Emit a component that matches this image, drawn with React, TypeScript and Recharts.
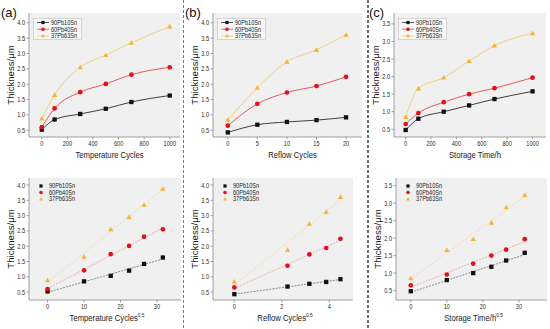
import React from "react";
import { ComposedChart, Line, XAxis, YAxis, CartesianGrid, Legend, Label } from "recharts";

const FONT = '"Liberation Sans", Arial, sans-serif';
// the source figure is squeezed horizontally, so glyphs are drawn narrower than tall
const SQUEEZE = 0.8;

const SERIES_NAMES = ["90Pb10Sn", "60Pb40Sn", "37Pb63Sn"];
const MARKERS = ["square", "circle", "triangle"];
const MARKER_COLORS = ["#111111", "#e3101c", "#f5b533"];
const LINE_COLORS = ["#2b2b2b", "#e44a4a", "#f7c970"];
const FIT_COLORS = ["#7a7a7a", "#eea3a3", "#f5d9a2"];

// (a) temperature cycling
const tempCycles = [0, 100, 300, 500, 700, 1000];
const tempCyclesRoot = [0, 10, 17.32, 22.36, 26.46, 31.62];
const temp90Pb10Sn = [0.52, 0.85, 1.03, 1.2, 1.42, 1.63];
const temp60Pb40Sn = [0.6, 1.21, 1.74, 2.01, 2.31, 2.55];
const temp37Pb63Sn = [0.88, 1.65, 2.55, 2.95, 3.35, 3.88];
const tempFitRoot = [0, 31.62];
const tempFit90Pb10Sn = [0.49, 1.58];
const tempFit60Pb40Sn = [0.61, 2.6];
const tempFit37Pb63Sn = [0.82, 3.86];

// (b) reflow
const reflowCycles = [0, 5, 10, 15, 20];
const reflowCyclesRoot = [0, 2.24, 3.16, 3.87, 4.47];
const reflow90Pb10Sn = [0.43, 0.68, 0.77, 0.83, 0.92];
const reflow60Pb40Sn = [0.65, 1.36, 1.73, 1.94, 2.24];
const reflow37Pb63Sn = [0.84, 1.88, 2.73, 3.12, 3.61];
const reflowFitRoot = [0, 4.47];
const reflowFit90Pb10Sn = [0.43, 0.91];
const reflowFit60Pb40Sn = [0.62, 2.19];
const reflowFit37Pb63Sn = [0.73, 3.51];

// (c) storage
const storageHours = [0, 100, 300, 500, 700, 1000];
const storageHoursRoot = [0, 10, 17.32, 22.36, 26.46, 31.62];
const storage90Pb10Sn = [0.48, 0.8, 1.0, 1.18, 1.36, 1.58];
const storage60Pb40Sn = [0.65, 0.96, 1.27, 1.5, 1.67, 1.97];
const storage37Pb63Sn = [0.85, 1.66, 1.97, 2.44, 2.88, 3.23];
const storageFitRoot = [0, 31.62];
const storageFit90Pb10Sn = [0.45, 1.53];
const storageFit60Pb40Sn = [0.59, 1.9];
const storageFit37Pb63Sn = [0.83, 3.19];

// ticks
const ticksCycles = [0, 200, 400, 600, 800, 1000];
const minorCycles = [100, 300, 500, 700, 900];
const ticksReflow = [0, 5, 10, 15, 20];
const minorReflow = [2.5, 7.5, 12.5, 17.5];
const ticksRoot = [0, 10, 20, 30];
const minorRoot = [5, 15, 25, 35];
const ticksReflowRoot = [0, 2, 4];
const minorReflowRoot = [1, 3];
const ticksThick40 = [0.5, 1, 1.5, 2, 2.5, 3, 3.5, 4];
const minorThick40 = [0.75, 1.25, 1.75, 2.25, 2.75, 3.25, 3.75];
const ticksThick35 = [0.5, 1, 1.5, 2, 2.5, 3, 3.5];
const minorThick35 = [0.75, 1.25, 1.75, 2.25, 2.75, 3.25];

const toRows = (xs: number[], ys: number[]) => xs.map((x, i) => ({ x, y: ys[i] }));

function Marker({ kind, cx, cy, fill, s }: any) {
  if (cx == null || cy == null) return null;
  if (kind === "square") return <rect x={cx - s / 2} y={cy - s / 2} width={s} height={s} fill={fill} />;
  if (kind === "circle") return <circle cx={cx} cy={cy} r={s / 2 + 0.2} fill={fill} />;
  return (
    <polygon
      points={`${cx},${cy - s * 0.62} ${cx - s * 0.62},${cy + s * 0.45} ${cx + s * 0.62},${cy + s * 0.45}`}
      fill={fill}
    />
  );
}

function LegendBox({ withLine }: { withLine: boolean }) {
  const rows = withLine ? [4.5, 11.2, 17.9] : [3, 9.5, 16];
  return (
    <svg width={50} height={22} style={{ display: "block" }}>
      {withLine && <rect x={0.5} y={0.5} width={48} height={21} fill="#f7f7f7" stroke="#c8c8c8" strokeWidth={0.7} />}
      {SERIES_NAMES.map((name, i) => (
        <g key={name}>
          {withLine && <line x1={4} x2={16} y1={rows[i]} y2={rows[i]} stroke={LINE_COLORS[i]} strokeWidth={0.8} />}
          <Marker kind={MARKERS[i]} cx={withLine ? 10 : 8} cy={rows[i]} fill={MARKER_COLORS[i]} s={3.2} />
          <text transform={`translate(${withLine ? 18 : 16} ${rows[i] + 2.4}) scale(${SQUEEZE} 1)`}
            fontSize={7} fontFamily={FONT} fill="#222">
            {name}
          </text>
        </g>
      ))}
    </svg>
  );
}

function AxisTick({ x, y, payload, textAnchor, vertical }: any) {
  const label = vertical ? Number(payload.value).toFixed(1) : String(payload.value);
  return (
    <text transform={`translate(${x} ${y}) scale(${SQUEEZE} 1)`} textAnchor={textAnchor}
      dy={vertical ? "0.36em" : "0.75em"} fontSize={7} fontFamily={FONT} fill="#2a2a2a">
      {label}
    </text>
  );
}

function XTitle({ viewBox, text, sup, shift }: any) {
  const { x, y, width } = viewBox;
  return (
    <text transform={`translate(${x + width / 2 + shift} ${y + 21}) scale(${SQUEEZE} 1)`} textAnchor="middle"
      fontSize={9.6} fontFamily={FONT} fill="#1a1a1a">
      {text}
      {sup ? (
        <tspan dy={-4.5} fontSize={6}>
          {sup}
        </tspan>
      ) : null}
    </text>
  );
}

function YTitle({ viewBox }: any) {
  const { x, y, width, height } = viewBox;
  const cx = x + width - 19;
  const cy = y + height / 2;
  return (
    <text x={cx} y={cy} transform={`rotate(-90 ${cx} ${cy})`} textAnchor="middle" dominantBaseline="central"
      fontSize={9.6} fontFamily={FONT} fill="#1a1a1a">
      Thickness/μm
    </text>
  );
}

type PanelProps = {
  left: number;
  top: number;
  width: number;
  height: number;
  margin: { top: number; right: number; bottom: number; left: number };
  yWidth: number;
  xHeight: number;
  xDomain: [number, number];
  yDomain: [number, number];
  xTicks: number[];
  xMinor: number[];
  yTicks: number[];
  yMinor: number[];
  xs: number[];
  series: number[][];
  fitXs?: number[];
  fits?: number[][];
  xTitle: string;
  xSup?: string;
  titleShift: number;
};

const tickLineStyle = { stroke: "#666", strokeWidth: 0.6 };
const boxLine = { stroke: "#8a8a8a", strokeWidth: 0.8 };

function Panel(p: PanelProps) {
  const smooth = !p.fits;
  return (
    <div style={{ position: "absolute", left: p.left, top: p.top }}>
      <ComposedChart width={p.width} height={p.height} margin={p.margin}>
        <CartesianGrid xAxisId="main" yAxisId="main" horizontal={false} vertical={false} fill="#f0f0f0" stroke="none" />
        <XAxis xAxisId="minor" type="number" dataKey="x" domain={p.xDomain} allowDataOverflow ticks={p.xMinor}
          interval={0} tick={false} tickSize={1.5} tickLine={tickLineStyle} axisLine={false} height={0} />
        <XAxis xAxisId="main" type="number" dataKey="x" domain={p.xDomain} allowDataOverflow ticks={p.xTicks}
          interval={0} tick={<AxisTick />} tickSize={2.5} tickMargin={1.5} tickLine={tickLineStyle} axisLine={boxLine}
          height={p.xHeight}>
          <Label content={(lp: any) => <XTitle viewBox={lp.viewBox} text={p.xTitle} sup={p.xSup} shift={p.titleShift} />} />
        </XAxis>
        <XAxis xAxisId="top" orientation="top" type="number" domain={p.xDomain} allowDataOverflow tick={false}
          tickLine={false} axisLine={boxLine} height={0} />
        <YAxis yAxisId="minor" type="number" domain={p.yDomain} allowDataOverflow ticks={p.yMinor} interval={0}
          tick={false} tickSize={1.5} tickLine={tickLineStyle} axisLine={false} width={0} />
        <YAxis yAxisId="main" type="number" domain={p.yDomain} allowDataOverflow ticks={p.yTicks} interval={0}
          tick={<AxisTick vertical />} tickSize={2.5} tickMargin={1.5} tickLine={tickLineStyle} axisLine={boxLine}
          width={p.yWidth}>
          <Label content={(lp: any) => <YTitle viewBox={lp.viewBox} />} />
        </YAxis>
        <YAxis yAxisId="right" orientation="right" type="number" domain={p.yDomain} allowDataOverflow tick={false}
          tickLine={false} axisLine={boxLine} width={0} />
        {p.fits &&
          p.fits.map((fy, i) => (
            <Line key={`fit-${i}`} xAxisId="main" yAxisId="main" data={toRows(p.fitXs || [], fy)} dataKey="y"
              type="linear" stroke={FIT_COLORS[i]} strokeWidth={0.9} strokeDasharray="2 1.2" dot={false}
              legendType="none" isAnimationActive={false} />
          ))}
        {p.series.map((ys, i) => (
          <Line key={SERIES_NAMES[i]} name={SERIES_NAMES[i]} xAxisId="main" yAxisId="main" data={toRows(p.xs, ys)}
            dataKey="y" type="monotone" stroke={smooth ? LINE_COLORS[i] : "none"} strokeWidth={0.9}
            dot={(dp: any) => (
              <Marker key={`m-${i}-${dp.index}`} kind={MARKERS[i]} cx={dp.cx} cy={dp.cy} fill={MARKER_COLORS[i]} s={4.3} />
            )}
            activeDot={false} isAnimationActive={false} />
        ))}
        <Legend layout="vertical" align="center" verticalAlign="middle"
          wrapperStyle={{ left: p.margin.left + p.yWidth + 4, top: p.margin.top + 5, width: 50, height: 22 }}
          content={() => <LegendBox withLine={smooth} />} />
      </ComposedChart>
    </div>
  );
}

export default function App() {
  return (
    <div style={{ position: "absolute", left: 0, top: 0, width: 550, height: 329, background: "#fff", overflow: "hidden" }}>
      <Panel left={0} top={0} width={184} height={165} margin={{ top: 13, right: 4, bottom: 0, left: 0 }}
        yWidth={29} xHeight={28} xDomain={[-100, 1080]} yDomain={[0.28, 4.32]}
        xTicks={ticksCycles} xMinor={minorCycles} yTicks={ticksThick40} yMinor={minorThick40}
        xs={tempCycles} series={[temp90Pb10Sn, temp60Pb40Sn, temp37Pb63Sn]}
        xTitle="Temperature Cycles" titleShift={5} />
      <Panel left={184} top={0} width={184} height={165} margin={{ top: 13, right: 6, bottom: 0, left: 0 }}
        yWidth={29} xHeight={28} xDomain={[-2.5, 22.7]} yDomain={[0.28, 4.32]}
        xTicks={ticksReflow} xMinor={minorReflow} yTicks={ticksThick40} yMinor={minorThick40}
        xs={reflowCycles} series={[reflow90Pb10Sn, reflow60Pb40Sn, reflow37Pb63Sn]}
        xTitle="Reflow Cycles" titleShift={5} />
      <Panel left={368} top={0} width={182} height={165} margin={{ top: 13, right: 4, bottom: 0, left: 0 }}
        yWidth={26} xHeight={28} xDomain={[-92, 1106]} yDomain={[0.28, 3.81]}
        xTicks={ticksCycles} xMinor={minorCycles} yTicks={ticksThick35} yMinor={minorThick35}
        xs={storageHours} series={[storage90Pb10Sn, storage60Pb40Sn, storage37Pb63Sn]}
        xTitle="Storage Time/h" titleShift={5} />

      <Panel left={0} top={165} width={184} height={164} margin={{ top: 13, right: 3, bottom: 0, left: 0 }}
        yWidth={29} xHeight={29} xDomain={[-5.1, 36.6]} yDomain={[0.24, 4.23]}
        xTicks={ticksRoot} xMinor={minorRoot} yTicks={ticksThick40} yMinor={minorThick40}
        xs={tempCyclesRoot} series={[temp90Pb10Sn, temp60Pb40Sn, temp37Pb63Sn]}
        fitXs={tempFitRoot} fits={[tempFit90Pb10Sn, tempFit60Pb40Sn, tempFit37Pb63Sn]}
        xTitle="Temperature Cycles" xSup="0.5" titleShift={2} />
      <Panel left={184} top={165} width={184} height={164} margin={{ top: 13, right: 15, bottom: 0, left: 0 }}
        yWidth={29} xHeight={29} xDomain={[-0.9, 5.0]} yDomain={[0.24, 4.23]}
        xTicks={ticksReflowRoot} xMinor={minorReflowRoot} yTicks={ticksThick40} yMinor={minorThick40}
        xs={reflowCyclesRoot} series={[reflow90Pb10Sn, reflow60Pb40Sn, reflow37Pb63Sn]}
        fitXs={reflowFitRoot} fits={[reflowFit90Pb10Sn, reflowFit60Pb40Sn, reflowFit37Pb63Sn]}
        xTitle="Reflow Cycles" xSup="0.5" titleShift={2} />
      <Panel left={368} top={165} width={182} height={164} margin={{ top: 13, right: 3, bottom: 0, left: 0 }}
        yWidth={28} xHeight={29} xDomain={[-4.1, 37.8]} yDomain={[0.23, 3.72]}
        xTicks={ticksRoot} xMinor={minorRoot} yTicks={ticksThick35} yMinor={minorThick35}
        xs={storageHoursRoot} series={[storage90Pb10Sn, storage60Pb40Sn, storage37Pb63Sn]}
        fitXs={storageFitRoot} fits={[storageFit90Pb10Sn, storageFit60Pb40Sn, storageFit37Pb63Sn]}
        xTitle="Storage Time/h" xSup="0.5" titleShift={2} />

      <svg width={550} height={329} style={{ position: "absolute", left: 0, top: 0, pointerEvents: "none" }}>
        <line x1={183.5} x2={183.5} y1={0} y2={329} stroke="#777" strokeWidth={1} strokeDasharray="3 2" />
        <line x1={368} x2={368} y1={0} y2={329} stroke="#222" strokeWidth={1.3} strokeDasharray="3 2" />
        <text x={1} y={17} fontSize={13} fontFamily={FONT} fill="#111">(a)</text>
        <text x={185} y={17} fontSize={13} fontFamily={FONT} fill="#111">(b)</text>
        <text x={369} y={17} fontSize={13} fontFamily={FONT} fill="#111">(c)</text>
      </svg>
    </div>
  );
}
